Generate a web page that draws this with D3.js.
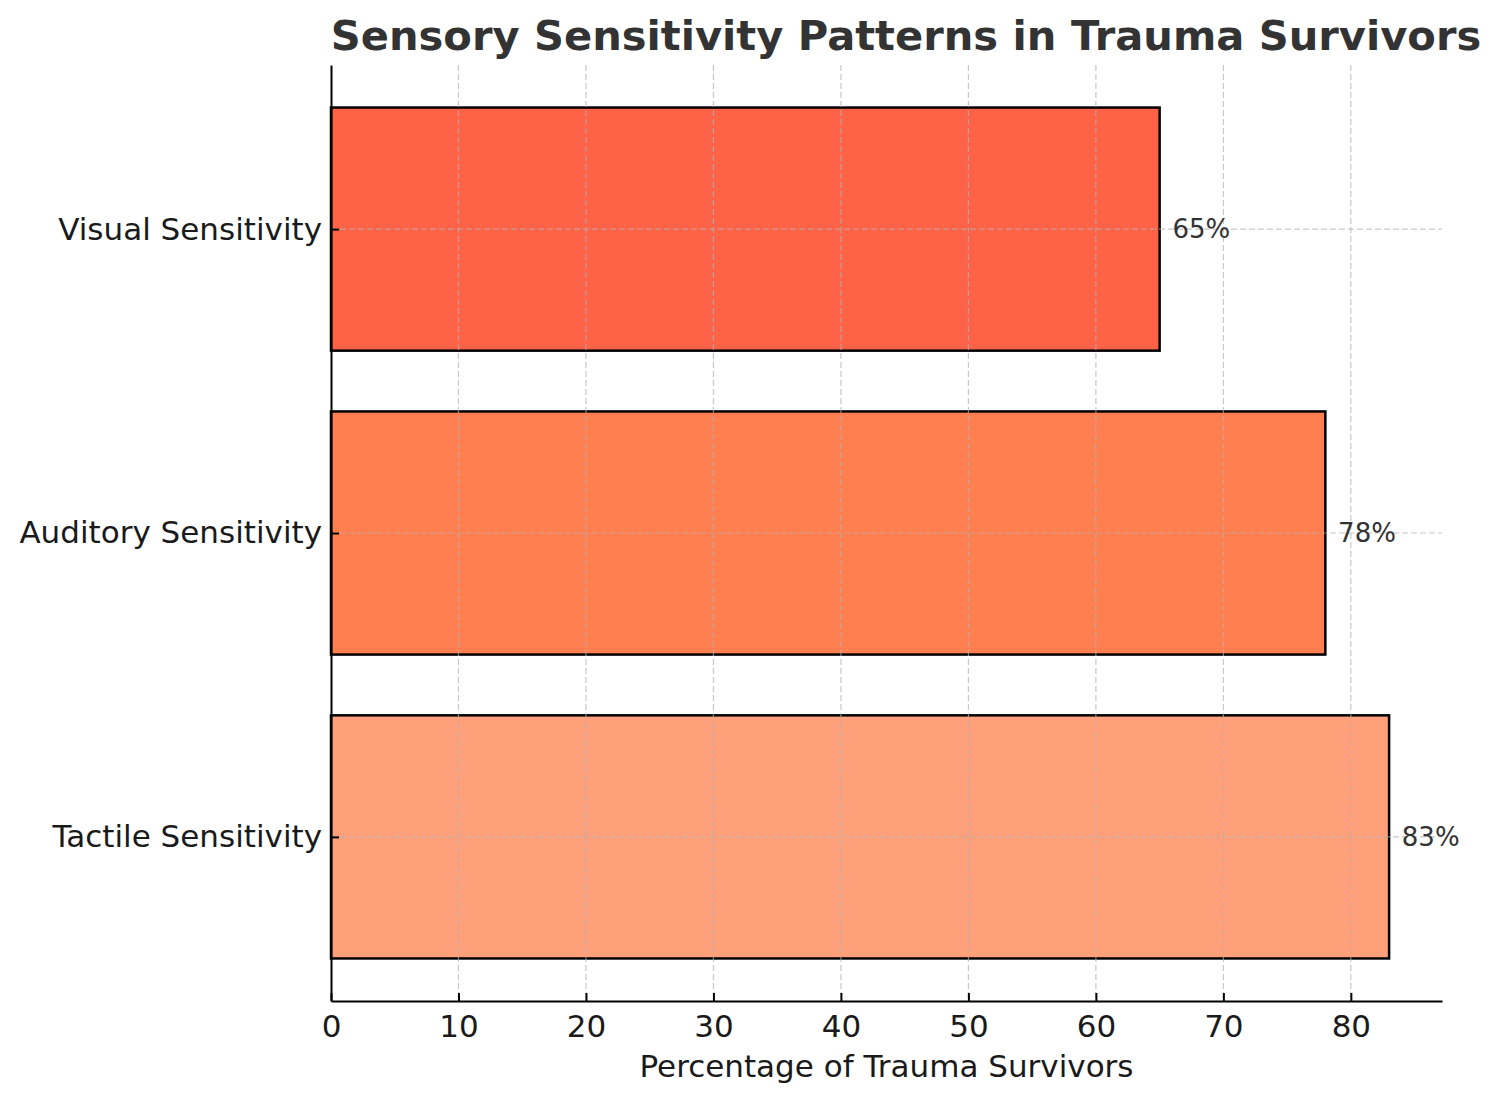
<!DOCTYPE html>
<html>
<head>
<meta charset="utf-8">
<script src="https://cdn.jsdelivr.net/npm/d3@7"></script>
<style>
  body { margin: 0; background: #fff; }
  text { font-family: "DejaVu Sans", sans-serif; }
</style>
</head>
<body>
<script>
// chart data
var categories = ['Tactile Sensitivity', 'Auditory Sensitivity', 'Visual Sensitivity'];
var values = [83, 78, 65];
var colors = ['#FFA07A', '#FF7F50', '#FF6347'];
var xTicks = [0, 10, 20, 30, 40, 50, 60, 70, 80];

var W = 1500, H = 1102;
var margin = {top: 65, right: 58, bottom: 101, left: 331};
var width = W - margin.left - margin.right,
    height = H - margin.top - margin.bottom;

var svg = d3.select('body').append('svg').attr('width', W).attr('height', H);
var g = svg.append('g').attr('transform', 'translate(' + margin.left + ',' + margin.top + ')');

var xMax = d3.max(values) * 1.05;
var x = d3.scaleLinear().domain([0, xMax]).range([0, width]);
// bars at positions 0..n-1, height 0.8, 5% margin like matplotlib
var n = categories.length;
var y = d3.scaleLinear().domain([-0.4 - 0.14, n - 0.6 + 0.14]).range([height, 0]);

var bars = categories.map(function (c, i) {
  return {name: c, value: values[i], color: colors[i], pos: i};
});

g.selectAll('.bar').data(bars).enter().append('rect')
    .attr('class', 'bar')
    .attr('x', x(0))
    .attr('y', function (d) { return y(d.pos + 0.4); })
    .attr('width', function (d) { return x(d.value) - x(0); })
    .attr('height', function (d) { return y(d.pos - 0.4) - y(d.pos + 0.4); })
    .attr('fill', function (d) { return d.color; })
    .attr('stroke', '#000')
    .attr('stroke-width', 2.5);

// grid over the bars
var grid = g.append('g').attr('class', 'grid');
grid.selectAll('.vg').data(xTicks.slice(1)).enter().append('line')
    .attr('x1', function (d) { return x(d); }).attr('x2', function (d) { return x(d); })
    .attr('y1', 0).attr('y2', height);
grid.selectAll('.hg').data(bars).enter().append('line')
    .attr('x1', 0).attr('x2', width)
    .attr('y1', function (d) { return y(d.pos); }).attr('y2', function (d) { return y(d.pos); });
grid.selectAll('line')
    .attr('stroke', '#b0b0b0').attr('stroke-opacity', 0.7)
    .attr('stroke-width', 1.2).attr('stroke-dasharray', '6,3');

// value labels
g.selectAll('.val').data(bars).enter().append('text')
    .attr('x', function (d) { return x(d.value + 1); })
    .attr('y', function (d) { return y(d.pos); })
    .attr('dy', '0.35em')
    .attr('font-size', 26)
    .attr('fill', '#333')
    .text(function (d) { return d.value + '%'; });

// axes
var xAxis = g.append('g').attr('transform', 'translate(0,' + height + ')')
    .call(d3.axisBottom(x).tickValues(xTicks).tickSizeInner(-8).tickSizeOuter(0).tickPadding(14));
var yAxis = g.append('g')
    .call(d3.axisLeft(y).tickValues(d3.range(n)).tickFormat(function (i) { return categories[i]; })
      .tickSizeInner(-8).tickSizeOuter(0).tickPadding(9));
[xAxis, yAxis].forEach(function (a) {
  a.select('.domain').attr('stroke', '#000').attr('stroke-width', 2);
  a.selectAll('.tick line').attr('stroke', '#000').attr('stroke-width', 2);
  a.selectAll('.tick text').attr('font-size', 31).attr('fill', '#1a1a1a')
    .style('font-family', '"DejaVu Sans", sans-serif');
});

svg.append('text')
    .attr('x', margin.left + width / 2)
    .attr('y', 1077)
    .attr('text-anchor', 'middle')
    .attr('font-size', 31)
    .attr('fill', '#1a1a1a')
    .text('Percentage of Trauma Survivors');

svg.append('text')
    .attr('x', 906)
    .attr('y', 50)
    .attr('text-anchor', 'middle')
    .attr('font-size', 41.6)
    .attr('font-weight', 'bold')
    .attr('fill', '#333')
    .text('Sensory Sensitivity Patterns in Trauma Survivors');
</script>
</body>
</html>
